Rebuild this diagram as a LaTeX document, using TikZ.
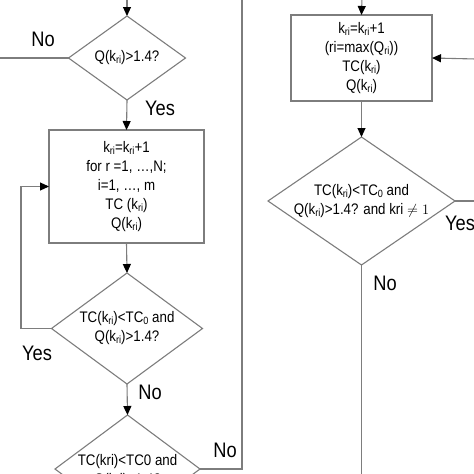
\documentclass[tikz,border=0pt]{standalone}
\usepackage{fontspec}
\setmainfont{Liberation Sans}[FakeStretch=0.87]
\usetikzlibrary{shapes.geometric,arrows.meta}
\definecolor{linegray}{RGB}{125,125,125}
\newcommand{\subtxt}[1]{\raisebox{-0.25ex}{\fontsize{10.5}{10.5}\selectfont #1}}
\tikzset{
  x=1pt, y=-1pt,
  flow/.style={draw=linegray, line width=1.1pt},
  arr/.style={flow, -{Triangle[length=9pt,width=8pt,color=black]}},
  dia/.style={diamond, draw=linegray, line width=1.1pt, inner sep=0pt, outer sep=0pt},
  boxx/.style={rectangle, draw=linegray, line width=1.1pt, inner sep=0pt, outer sep=0pt, align=center,
     font=\fontsize{15.3}{19}\selectfont},
  txt/.style={align=center, inner sep=0pt, font=\fontsize{15.3}{19}\selectfont},
  lab/.style={inner sep=0pt, font=\fontsize{21}{21}\selectfont}
}
\begin{document}
\begin{tikzpicture}
\useasboundingbox (0,0) rectangle (474,474);
% left column
\node[dia, minimum width=117pt, minimum height=84pt] (d1) at (127,58) {};
\node[txt] (t1) at (d1.center) {Q(k\subtxt{ri})>1.4?};
\node[boxx, minimum width=155pt, minimum height=113pt] (b1) at (126.5,186.5)
  {k\subtxt{ri}=k\subtxt{ri}+1\\for r =1, \dots,N;\\i=1, \dots, m\\TC (k\subtxt{ri})\\Q(k\subtxt{ri})};
\node[dia, minimum width=151pt, minimum height=111pt] (d2) at (127,328.5) {};
\node[txt] (t2) at (d2.center) {TC(k\subtxt{ri})<TC\subtxt{0} and\\Q(k\subtxt{ri})>1.4?};
\node[dia, minimum width=145pt, minimum height=108pt] (d3) at (127.5,469) {};
\node[txt, anchor=north] (t3) at (127.5,454) {TC(kri)<TC0 and\\Q(kri)>1.4?};
% right column
\node[boxx, minimum width=141pt, minimum height=86pt] (b2) at (361.5,58)
  {k\subtxt{ri}=k\subtxt{ri}+1\\(ri=max(Q\subtxt{ri}))\\TC(k\subtxt{ri})\\Q(k\subtxt{ri})};
\node[dia, minimum width=187pt, minimum height=128pt] (d4) at (361.5,201) {};
\node[txt] (t4) at (d4.center) {TC(k\subtxt{ri})<TC\subtxt{0} and\\Q(k\subtxt{ri})>1.4? and kri $\neq 1$};
% coordinates
\coordinate (s1) at (127,-2);
\coordinate (e1) at (-2,58);
\coordinate (lp) at (21,328.5);
\coordinate (c3) at (242,469);
\coordinate (c3top) at (242,-2);
\coordinate (s2) at (362,-2);
\coordinate (s3) at (476,59);
\coordinate (e4) at (476,201);
\coordinate (e5) at (361.5,476);
% connectors
\draw[arr] (s1) -- (d1.north);
\draw[flow] (d1.west) -- (e1);
\draw[arr] (d1.south) -- (b1.north);
\draw[arr] (b1.south) -- (d2.north);
\draw[arr] (d2.west) -- (lp) |- (b1.west);
\draw[arr] (d2.south) -- (d3.north);
\draw[flow] (d3.east) -- (c3) -- (c3top);
\draw[arr] (s2) -- (b2.north);
\draw[arr] (s3) -- (b2.east);
\draw[arr] (b2.south) -- (d4.north);
\draw[flow] (d4.east) -- (e4);
\draw[flow] (d4.south) -- (e5);
% labels
\node[lab] (l1) at (43,39) {No};
\node[lab] (l2) at (160,108) {Yes};
\node[lab] (l3) at (37,353) {Yes};
\node[lab] (l4) at (150,392) {No};
\node[lab] (l5) at (225,450) {No};
\node[lab, anchor=west] (l6) at (445,223) {Yes};
\node[lab] (l7) at (385,283) {No};
\end{tikzpicture}
\end{document}
